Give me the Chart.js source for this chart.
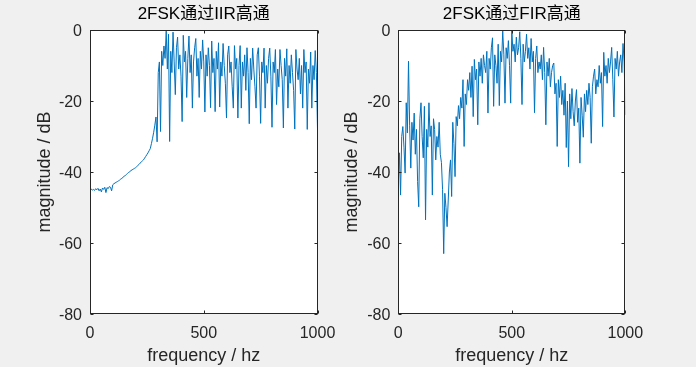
<!DOCTYPE html>
<html><head><meta charset="utf-8">
<script src="https://cdn.jsdelivr.net/npm/chart.js@4.4.0/dist/chart.umd.min.js"></script>
<style>
html,body{margin:0;padding:0;background:#f0f0f0;width:696px;height:367px;overflow:hidden;}
canvas{position:absolute;top:0;}
#c1{left:0;} #c2{left:320px;}
</style></head><body>
<canvas id="c1" width="348" height="367"></canvas>
<canvas id="c2" width="376" height="367"></canvas>
<script>
// frequency grid step (Hz) of the sampled spectra
const freqStep = 5;

// magnitude (dB) of 2FSK after IIR high-pass, f = 0..1000 Hz
const iirValues = [
 -45.0,-44.8,-45.1,-44.9,-45.2,-44.7,-45.0,-44.6,-45.3,-44.8,
 -45.6,-44.5,-44.9,-44.3,-45.8,-44.4,-44.7,-44.1,-44.3,-45.3,
 -43.6,-43.3,-43.1,-42.9,-42.7,-42.5,-42.3,-42.0,-41.8,-41.5,
 -41.2,-41.0,-40.7,-40.4,-40.1,-39.9,-39.6,-39.4,-39.2,-39.0,
 -38.8,-38.5,-38.2,-37.9,-37.5,-37.2,-36.9,-36.6,-36.1,-35.6,
 -35.1,-34.6,-34.0,-33.4,-32.0,-30.5,-28.8,-26.8,-24.5,-31.5,
 -12,-9,-28.6,-6,-10,-4.5,-8,-0.3,-11,-1.2,
 -31.4,-6,-12,-0.6,-9,-18.2,-5,-2,-11,-7,
 -13,-25.8,-1.5,-9,-6,-19,-8,-1.7,-12,-7,
 -22,-9,-5,-2.4,-13,-8,-19,-6,-11,-2.8,
 -9,-23.1,-7,-13,-5,-10,-21.9,-3.1,-12,-8,
 -23,-6,-11,-3.6,-21.7,-9,-13,-3.8,-10,-15,
 -24.8,-7,-4.5,-12,-9,-16,-22,-4.4,-11,-8,
 -24.8,-10,-4.4,-22,-9,-13,-7,-17,-5,-12,
 -26.4,-8,-14,-5.1,-11,-16,-22,-7,-5,-13,
 -26.3,-9,-12,-5.1,-22,-10,-15,-8,-5.1,-13,
 -27.4,-9,-12,-5.5,-21,-11,-16,-5.5,-10,-14,
 -27.6,-8,-13,-5.3,-22,-10,-15,-7,-12,-17,
 -27.9,-5.5,-11,-14,-8,-18,-10,-22,-5.5,-12,
 -9,-28,-11,-15,-6.2,-22,-10,-14,-5.8,-12,
 -28
];

// magnitude (dB) of 2FSK after FIR filter, f = 0..1000 Hz
const firValues = [
 -43.6,-34.6,-46.5,-30,-27.2,-33,-40.3,-20.5,-29,-8.8,
 -27,-38.9,-26,-31,-23.4,-35,-28,-42.7,-49.8,-25,
 -20.5,-30,-36,-21.5,-53.5,-28,-33,-20.5,-30,-27,
 -46.5,-25,-28,-36.6,-30,-33,-26,-35,-37.3,-45,
 -63,-46,-50,-55.4,-47.9,-40,-36.6,-46.9,-26,-32,
 -41.3,-24.4,-27,-21.3,-25,-19,-22,-14,-32.8,-18,
 -21,-14,-17,-12,-19,-10.2,-24.4,-8.3,-14,-11,
 -26.7,-9,-13,-8,-15,-7,-10,-12,-6,-23.4,
 -8,-11,-5,-2.2,-21.5,-7,-10,-15,-4,-21.3,
 -6,-9,-0.3,-7,-20.6,-5,-8,-3,-10,-20.6,
 -0.2,-6,-4,-9,-2,-7,-5,-0.5,-8,-21,
 -4,-9,-6,-1.2,-8,-5,-11,-2.4,-9,-6,
 -23.3,-8,-4.5,-12,-9,-11,-7,-14,-4.9,-12,
 -26.7,-9,-13,-8,-16,-12,-10,-9.3,-18,-15,
 -32.8,-14,-19,-13,-21,-17,-24,-15,-33.1,-20,
 -38.5,-18,-25,-16.5,-23,-27,-20,-16.8,-26,-22,
 -37.5,-19,-24,-30.2,-18,-23,-17,-21,-15,-19,
 -31.9,-16,-13,-11,-18,-14,-16,-10,-15,-12,
 -27.2,-6.3,-13,-10,-15,-8,-12,-9,-4.9,-14,
 -24.5,-8,-11,-6,-13,-9,-7,-12,-3.8,-9,
 -23.9
];

const xTicks = [0, 500, 1000];
const yTicks = [-80, -60, -40, -20, 0];
const titles = ['2FSK通过IIR高通', '2FSK通过FIR高通'];
const xLabel = 'frequency / hz';
const yLabel = 'magnitude / dB';

const FONT = "'Liberation Sans', Arial, 'Noto Sans CJK SC', sans-serif";
const AX = '#262626', LINE = '#0072BD';

const boxPlugin = {
  id: 'box',
  beforeDraw(chart) {
    const {ctx, chartArea: a} = chart;
    ctx.save();
    ctx.fillStyle = '#ffffff';
    ctx.fillRect(a.left, a.top, a.right - a.left, a.bottom - a.top);
    ctx.restore();
  },
  afterDraw(chart) {
    const {ctx, chartArea: a, scales} = chart;
    ctx.save();
    ctx.strokeStyle = AX;
    ctx.lineWidth = 1;
    const L = Math.round(a.left) + 0.5, R = Math.round(a.right) - 0.5;
    const T = Math.round(a.top) + 0.5, B = Math.round(a.bottom) - 0.5;
    ctx.strokeRect(L, T, R - L, B - T);
    const tl = 3;
    ctx.beginPath();
    xTicks.forEach(v => {
      const x = Math.round(scales.x.getPixelForValue(v)) + 0.5;
      ctx.moveTo(x, B); ctx.lineTo(x, B - tl);
      ctx.moveTo(x, T); ctx.lineTo(x, T + tl);
    });
    yTicks.forEach(v => {
      const y = Math.round(scales.y.getPixelForValue(v)) + 0.5;
      ctx.moveTo(L, y); ctx.lineTo(L + tl, y);
      ctx.moveTo(R, y); ctx.lineTo(R - tl, y);
    });
    ctx.stroke();
    ctx.restore();
  }
};

function make(id, vals, title, yW, padR, yTitleOff) {
  const data = vals.map((v, i) => ({x: i * freqStep, y: v}));
  return new Chart(document.getElementById(id), {
    type: 'line',
    data: {datasets: [{data, borderColor: LINE, borderWidth: 1, pointRadius: 0, tension: 0, fill: false}]},
    options: {
      responsive: false, animation: false, events: [],
      layout: {padding: {left: 0, right: padR, top: 0, bottom: 0}},
      plugins: {
        legend: {display: false}, tooltip: {enabled: false},
        title: {display: true, text: title, fullSize: false, color: '#000',
          font: {family: FONT, size: 17, weight: 'normal', lineHeight: 1.2},
          padding: {top: 4.6, bottom: 5}}
      },
      scales: {
        x: {
          type: 'linear', min: 0, max: 1000,
          grid: {display: false, drawTicks: false}, border: {display: false},
          afterBuildTicks: s => { s.ticks = xTicks.map(v => ({value: v})); },
          ticks: {color: AX, font: {family: FONT, size: 16}, padding: 10, maxRotation: 0, autoSkip: false,
            callback: v => String(v)},
          title: {display: true, text: xLabel, color: AX, font: {family: FONT, size: 18, lineHeight: 1.2}, padding: {top: 0, bottom: 0}},
          afterFit: s => { s.height = 53; }
        },
        y: {
          type: 'linear', min: -80, max: 0,
          grid: {display: false, drawTicks: false}, border: {display: false},
          afterBuildTicks: s => { s.ticks = yTicks.map(v => ({value: v})); },
          ticks: {color: AX, font: {family: FONT, size: 16}, padding: 8, labelOffset: 2,
            callback: v => String(v)},
          title: {display: true, text: yLabel, color: AX, font: {family: FONT, size: 18, lineHeight: 1.2}, padding: {top: yTitleOff, bottom: 0}},
          afterFit: s => { s.width = yW; }
        }
      }
    },
    plugins: [boxPlugin]
  });
}

make('c1', iirValues, titles[0], 90, 30.5, 34.2);
make('c2', firValues, titles[1], 78.3, 70.7, 21.5);
</script>
</body></html>
